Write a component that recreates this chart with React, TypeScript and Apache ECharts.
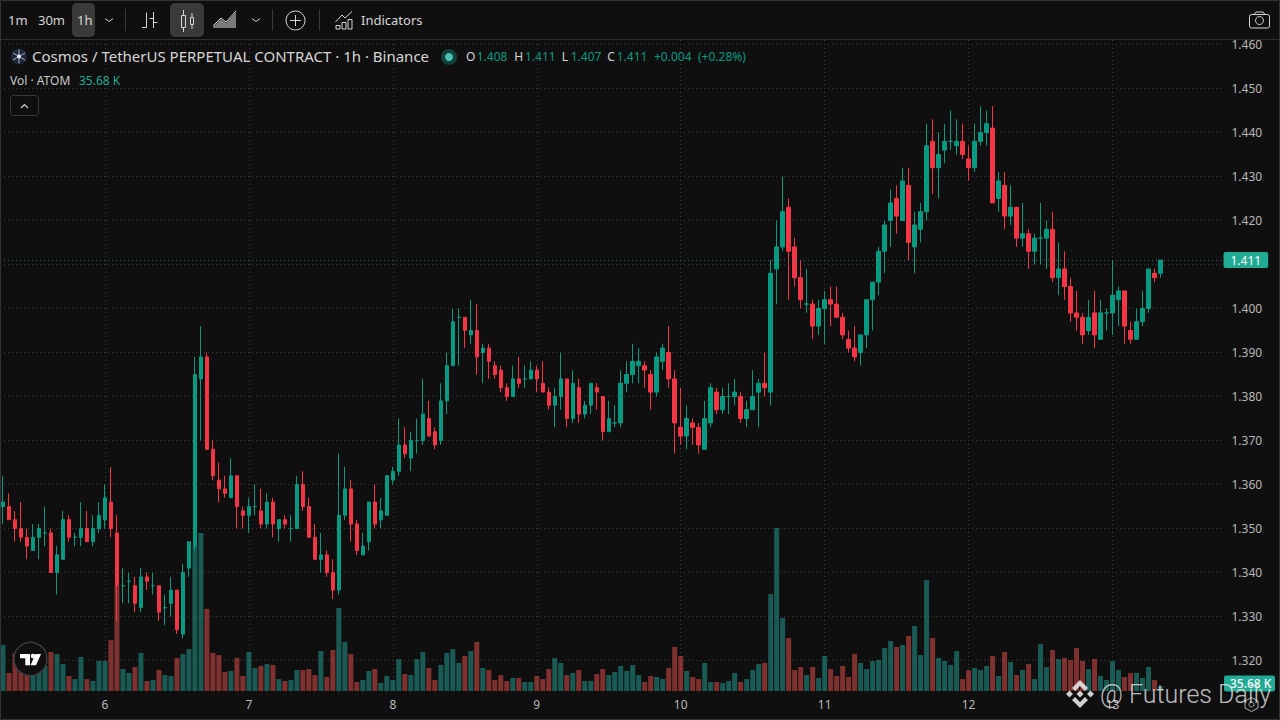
import React, { useEffect, useRef } from "react";
import * as echarts from "echarts";

// Prices in thousandths of a USDT, one entry per hourly candle
const opens = [
  1355,1355,1352,1350,1348,1345,1348,1349,1349,1340,
  1343,1352,1348,1348,1350,1347,1350,1352,1356,1349,
  1337,1338,1337,1332,1339,1337,1337,1332,1333,1336,
  1326,1341,1346,1384,1389,1368,1361,1359,1357,1362,
  1354,1353,1355,1354,1351,1356,1350,1352,1350,1350,
  1360,1355,1348,1343,1344,1340,1336,1353,1359,1351,
  1344,1347,1356,1352,1353,1361,1363,1369,1366,1370,
  1370,1375,1372,1370,1379,1387,1398,1398,1394,1395,
  1390,1391,1387,1386,1382,1380,1384,1384,1384,1386,
  1383,1381,1378,1380,1384,1375,1382,1376,1378,1382,
  1380,1372,1374,1374,1383,1385,1387,1387,1385,1381,
  1388,1390,1384,1373,1371,1374,1373,1368,1374,1381,
  1377,1380,1380,1380,1375,1377,1381,1383,1381,1409,
  1414,1423,1414,1407,1401,1401,1396,1400,1402,1401,
  1398,1393,1391,1390,1394,1402,1406,1413,1420,1425,
  1420,1428,1414,1418,1422,1438,1432,1436,1438,1437,
  1438,1434,1432,1438,1440,1441,1425,1428,1421,1423,
  1416,1417,1413,1416,1416,1418,1407,1409,1405,1399,
  1398,1395,1399,1393,1399,1399,1402,1404,1395,1393,
  1397,1400,1408,1408,
];
const closes = [
  1356,1352,1350,1348,1346,1348,1350,1349,1340,1344,
  1352,1348,1348,1350,1347,1350,1353,1357,1350,1337,
  1337,1338,1333,1339,1338,1337,1331,1332,1336,1327,
  1340,1347,1385,1389,1368,1362,1359,1358,1362,1355,
  1353,1355,1355,1351,1356,1351,1352,1351,1350,1360,
  1355,1348,1343,1344,1340,1336,1353,1359,1351,1345,
  1346,1356,1351,1354,1362,1363,1369,1367,1370,1370,
  1376,1371,1369,1379,1387,1397,1398,1395,1395,1389,
  1391,1388,1385,1382,1380,1384,1383,1384,1386,1384,
  1381,1378,1380,1384,1375,1383,1376,1378,1383,1381,
  1372,1375,1374,1383,1385,1388,1388,1386,1381,1389,
  1391,1384,1374,1371,1375,1373,1369,1375,1382,1377,
  1380,1380,1381,1375,1377,1380,1383,1382,1408,1414,
  1422,1413,1407,1402,1401,1396,1400,1402,1401,1398,
  1394,1391,1389,1394,1402,1406,1413,1419,1424,1421,
  1429,1415,1419,1422,1437,1432,1435,1438,1438,1438,
  1435,1432,1438,1440,1442,1424,1429,1421,1423,1416,
  1417,1413,1416,1416,1418,1407,1409,1405,1399,1398,
  1394,1398,1394,1399,1399,1403,1404,1396,1393,1397,
  1400,1409,1407,1411,
];
const highs = [
  1362,1358,1354,1356,1350,1351,1351,1355,1350,1346,
  1354,1353,1349,1356,1354,1353,1356,1360,1364,1353,
  1341,1340,1339,1341,1340,1340,1337,1335,1339,1336,
  1342,1347,1389,1396,1390,1370,1365,1362,1366,1362,
  1355,1357,1360,1359,1358,1357,1352,1353,1353,1362,
  1363,1357,1351,1349,1345,1343,1367,1364,1361,1352,
  1349,1356,1360,1357,1362,1364,1375,1373,1372,1375,
  1384,1379,1373,1383,1390,1400,1400,1398,1402,1401,
  1392,1392,1388,1387,1383,1387,1389,1387,1388,1387,
  1388,1382,1382,1390,1384,1386,1384,1379,1383,1383,
  1380,1379,1378,1386,1388,1392,1391,1388,1386,1390,
  1392,1396,1386,1382,1378,1375,1374,1379,1383,1382,
  1382,1383,1384,1381,1379,1386,1384,1390,1411,1420,
  1430,1425,1416,1411,1409,1402,1402,1404,1405,1405,
  1399,1395,1396,1394,1402,1406,1414,1420,1427,1428,
  1432,1432,1422,1424,1442,1443,1440,1442,1445,1443,
  1442,1437,1442,1446,1445,1446,1431,1431,1428,1423,
  1424,1418,1417,1424,1420,1422,1415,1413,1407,1404,
  1399,1402,1404,1402,1400,1411,1405,1404,1397,1400,
  1404,1409,1409,1411,
];
const lows = [
  1351,1352,1347,1347,1343,1345,1343,1346,1340,1335,
  1343,1347,1346,1346,1347,1346,1349,1350,1348,1329,
  1333,1333,1331,1331,1336,1335,1329,1328,1330,1326,
  1325,1339,1345,1370,1368,1361,1356,1357,1357,1350,
  1350,1349,1353,1350,1350,1348,1347,1350,1347,1350,
  1354,1348,1343,1340,1339,1334,1335,1352,1347,1344,
  1344,1345,1350,1350,1353,1360,1362,1366,1363,1367,
  1369,1371,1368,1369,1376,1387,1387,1391,1392,1385,
  1383,1384,1384,1381,1379,1380,1382,1382,1384,1381,
  1381,1377,1373,1377,1373,1374,1374,1375,1376,1377,
  1370,1372,1373,1373,1381,1383,1383,1382,1377,1380,
  1386,1382,1367,1369,1368,1369,1367,1368,1373,1376,
  1376,1376,1378,1374,1373,1377,1373,1380,1378,1401,
  1413,1402,1405,1400,1399,1393,1394,1392,1396,1398,
  1393,1390,1388,1387,1391,1395,1403,1408,1414,1417,
  1420,1411,1408,1415,1420,1426,1425,1433,1436,1435,
  1434,1429,1431,1437,1437,1424,1422,1418,1419,1414,
  1414,1409,1410,1410,1409,1406,1403,1402,1397,1395,
  1392,1394,1391,1393,1395,1394,1396,1392,1392,1393,
  1396,1399,1406,1407,
];
// Volume in thousands of ATOM
const volumes = [
  331,130,271,175,120,151,331,180,281,266,
  194,108,86,245,86,72,216,216,367,756,
  158,130,173,274,72,79,151,115,108,238,
  266,302,1044,1138,590,274,259,137,144,238,
  108,281,166,180,194,187,86,72,79,151,
  151,158,115,288,101,295,598,353,266,65,
  79,144,158,58,108,79,230,122,115,230,
  281,166,79,187,274,302,202,252,288,353,
  166,151,79,115,72,94,94,65,65,108,
  86,158,238,202,115,130,151,72,72,122,
  158,115,137,180,144,187,115,65,108,101,
  86,166,317,252,144,101,86,202,65,65,
  58,72,130,65,86,151,194,202,698,1174,
  526,382,151,173,115,173,94,252,158,108,
  180,101,266,202,158,216,223,310,360,317,
  331,396,468,259,799,382,238,216,187,288,
  86,151,166,151,180,252,108,281,209,115,
  151,194,86,338,173,295,230,238,223,310,
  216,158,230,108,79,216,151,101,130,130,
  94,173,79,35.68,
];
const dayTickIndex = [17, 41, 65, 89, 113, 137, 161, 185];
const dayLabels = ["6", "7", "8", "9", "10", "11", "12", "13"];
const priceTicks = { min: 1.31, max: 1.46, step: 0.01 };
const lastClose = 1.411;
const toolbarIntervals = ["1m", "30m", "1h"];
const titleText = "Cosmos / TetherUS PERPETUAL CONTRACT · 1h · Binance";
const ohlcLegend = [
  ["O", "1.408"],
  ["H", "1.411"],
  ["L", "1.407"],
  ["C", "1.411"],
];

const FONT = '"Noto Sans", Roboto, sans-serif';
const UP = "#089981";
const DOWN = "#f23645";
const BG = "#0f0f0f";
const GRID = "#3a3a3a";
const TEAL = "#22ab94";
const LABEL = "#b8b8b8";
const ICON = "#d6d6d6";

const T = (x: number, y: number, text: string, fill: string, size: number, extra: any = {}) => ({
  type: "text",
  x,
  y,
  z: 20,
  style: { text, fill, fontSize: size, fontFamily: FONT, verticalAlign: "middle", align: "left", ...extra },
});
const L = (pts: number[][], stroke = ICON, lw = 1, z = 20) => ({
  type: "polyline",
  z,
  shape: { points: pts },
  style: { stroke, lineWidth: lw, fill: "none" },
});
const P = (pts: number[][], fill: string, z = 20) => ({ type: "polygon", z, shape: { points: pts }, style: { fill } });
const R = (x: number, y: number, w: number, h: number, style: any, r = 0, z = 15) => ({
  type: "rect",
  z,
  shape: { x, y, width: w, height: h, r },
  style,
});
const C = (cx: number, cy: number, r: number, style: any, z = 20) => ({ type: "circle", z, shape: { cx, cy, r }, style });

function buildGraphics() {
  const out: any[] = [
    R(0, 0, 1280, 39, { fill: BG }, 0, 10),
    L([[0, 39.5], [1280, 39.5]], "#2e2e2e", 1, 11),
    R(0.5, 0.5, 1279, 719, { fill: "none", stroke: "#343434", lineWidth: 1 }, 0, 12),
    R(72, 3, 23, 34, { fill: "#3a3a3a" }, 5),
    R(170, 3, 34, 34, { fill: "#3a3a3a" }, 5),
    T(8, 20, toolbarIntervals[0], ICON, 13),
    T(38, 20, toolbarIntervals[1], ICON, 13),
    T(77, 20, toolbarIntervals[2], ICON, 13),
    L([[105, 18.5], [109, 21.5], [113, 18.5]]),
    L([[125.5, 9], [125.5, 31]], "#3a3a3a"),
    // bar-chart icon
    L([[142, 27.5], [146.5, 27.5], [146.5, 12.5]]),
    L([[153.5, 12], [153.5, 28]]),
    L([[153.5, 22.5], [157.5, 22.5]]),
    L([[149.5, 18.5], [153.5, 18.5]]),
    // candle icon
    R(181.5, 15.5, 4, 12, { fill: "none", stroke: ICON }, 0, 20),
    L([[183.5, 10], [183.5, 15]]),
    L([[183.5, 28], [183.5, 32]]),
    R(190.5, 17.5, 3, 7, { fill: "none", stroke: ICON }, 0, 20),
    L([[192, 13], [192, 17]]),
    L([[192, 25], [192, 29]]),
    // area icon
    P([[213, 27], [221, 19], [226, 23], [236, 12], [236, 28], [213, 28]], "rgba(214,214,214,0.55)"),
    L([[213, 26], [221, 18], [226, 22], [236, 11]]),
    L([[252, 18.5], [256, 21.5], [260, 18.5]]),
    L([[272.5, 9], [272.5, 31]], "#3a3a3a"),
    C(295.5, 20.5, 9.5, { fill: "none", stroke: ICON, lineWidth: 1 }),
    L([[295.5, 15], [295.5, 26]]),
    L([[290, 20.5], [301, 20.5]]),
    L([[319.5, 9], [319.5, 31]], "#3a3a3a"),
    // indicators icon
    L([[335.5, 22], [342, 15], [345, 18], [352, 11.5]]),
    R(336, 25.5, 4, 3.5, { fill: "none", stroke: ICON }, 0, 20),
    R(342, 22.5, 4, 6.5, { fill: "none", stroke: ICON }, 0, 20),
    R(348, 19.5, 4, 9.5, { fill: "none", stroke: ICON }, 0, 20),
    T(361, 20, "Indicators", ICON, 13),
    // camera icon
    R(1249.5, 14.5, 20, 13.5, { fill: "none", stroke: ICON }, 2, 20),
    L([[1254, 14.5], [1256, 12], [1263, 12], [1265, 14.5]]),
    C(1259.5, 20.5, 4, { fill: "none", stroke: ICON, lineWidth: 1 }),
    // legend
    C(19, 56.5, 8, { fill: "#20263a" }),
    L([[13, 53], [25, 60]], "#a9b4cc"),
    L([[13, 60], [25, 53]], "#a9b4cc"),
    L([[19, 49.5], [19, 63.5]], "#a9b4cc"),
    C(19, 56.5, 2, { fill: "#dfe4f0" }),
    T(32, 56, titleText, "#d6d6d6", 15),
    C(449, 57, 8, { fill: "#12403b" }),
    C(449, 57, 4, { fill: "#4cc0b0" }),
    T(10, 80.5, "Vol · ATOM", "#c8c8c8", 12),
    T(79, 80.5, "35.68 K", TEAL, 12),
    R(10.5, 95.5, 28, 20, { fill: BG, stroke: "#3a3a3a", lineWidth: 1 }, 3, 20),
    L([[21, 108], [24.5, 104.5], [28, 108]], ICON, 1.2, 21),
    T(654, 56.5, "+0.004", "#089981", 12),
    T(698, 56.5, "(+0.28%)", "#089981", 12),
    // volume tag
    R(1224, 675.5, 51, 16, { fill: TEAL }, 2, 15),
    T(1230, 683.5, "35.68 K", "#ffffff", 12, { fontWeight: 500 }),
    // TradingView badge
    C(30.5, 659, 16.5, { fill: BG, stroke: "#3c3c3c", lineWidth: 1.5 }),
    P([[20, 654], [30, 654], [30, 665.3], [25.3, 665.3], [25.3, 658.3], [20, 658.3]], "#ffffff"),
    C(33, 656, 2.3, { fill: "#ffffff" }),
    P([[41, 654], [35.5, 654], [30.5, 665.3], [36, 665.3]], "#ffffff"),
    // settings icon
    L([[1251.5, 697.5], [1258, 701], [1258, 708], [1251.5, 711.5], [1245, 708], [1245, 701], [1251.5, 697.5]], "#b0b0b0", 1, 21),
    C(1251.5, 704.5, 2.5, { fill: "none", stroke: "#b0b0b0", lineWidth: 1 }, 21),
    // watermark
    ...[
      [[0, -14], [8, -6], [5, -3], [0, -8], [-5, -3], [-8, -6]],
      [[0, 14], [8, 6], [5, 3], [0, 8], [-5, 3], [-8, 6]],
      [[-14, 0], [-10.5, -3.5], [-7, 0], [-10.5, 3.5]],
      [[14, 0], [10.5, -3.5], [7, 0], [10.5, 3.5]],
      [[0, -3.5], [3.5, 0], [0, 3.5], [-3.5, 0]],
    ].map((shape) => P(shape.map(([a, b]) => [1080 + a, 694 + b]), "rgba(235,235,235,0.88)", 30)),
    { ...T(1100, 694, "@ Futures Daily", "rgba(235,235,235,0.8)", 25, { fontFamily: "Roboto, sans-serif", fontWeight: 300 }), z: 30 },
  ];
  const xs = [466, 514.3, 561.7, 607.3];
  const vs = [476.7, 525, 570.7, 616.7];
  ohlcLegend.forEach(([k, v], i) => {
    out.push(T(xs[i], 56.5, k, "#d6d6d6", 12));
    out.push(T(vs[i], 56.5, v, "#089981", 12));
  });
  return out;
}

export default function App() {
  const ref = useRef<HTMLDivElement>(null);
  useEffect(() => {
    document.body.style.margin = "0";
    document.body.style.background = BG;
    const chart = echarts.init(ref.current!, undefined, { renderer: "svg", width: 1280, height: 720 });
    const slots = 204;
    const categories = Array.from({ length: slots }, (_, i) => {
      const at = dayTickIndex.indexOf(i);
      return at >= 0 ? dayLabels[at] : `h${i}`;
    });
    const isDay = (i: number) => dayTickIndex.includes(i);
    const candles = opens.map((o, i) => {
      const value = [o / 1000, closes[i] / 1000, lows[i] / 1000, highs[i] / 1000];
      return o === closes[i]
        ? { value, itemStyle: { color: UP, color0: UP, borderColor: UP, borderColor0: UP } }
        : { value };
    });
    const bars = volumes.map((v, i) => ({
      value: v,
      itemStyle: { color: closes[i] >= opens[i] ? "rgba(38,166,154,0.5)" : "rgba(239,83,80,0.5)" },
    }));
    chart.setOption({
      animation: false,
      backgroundColor: BG,
      textStyle: { fontFamily: FONT },
      tooltip: { show: false },
      grid: [
        { left: -0.5, width: 1224, top: 44.5, height: 660 },
        { left: -0.5, width: 1224, top: 40, height: 651 },
      ],
      xAxis: [
        {
          type: "category",
          gridIndex: 0,
          data: categories,
          axisLine: { show: false },
          axisTick: { show: false },
          axisLabel: { show: false },
          splitLine: { show: false },
        },
        {
          type: "category",
          gridIndex: 1,
          data: categories,
          axisLine: { show: false },
          axisTick: { show: false },
          axisLabel: {
            show: true,
            interval: (i: number) => isDay(i),
            color: LABEL,
            fontSize: 12,
            fontFamily: FONT,
            margin: 7,
          },
          splitLine: {
            show: true,
            interval: (i: number) => isDay(i),
            alignWithLabel: true,
            lineStyle: { color: GRID, type: [1, 3], width: 1 },
          },
        },
      ],
      yAxis: [
        {
          type: "value",
          gridIndex: 0,
          position: "right",
          min: priceTicks.min,
          max: priceTicks.max,
          interval: priceTicks.step,
          axisLine: { show: false },
          axisTick: { show: false },
          axisLabel: {
            color: LABEL,
            fontSize: 12,
            fontFamily: FONT,
            margin: 8,
            showMinLabel: false,
            padding: [0, 0, 1, 0],
            // the 1.410 label sits under the last-price tag, so it is not drawn
            formatter: (v: number) => (v.toFixed(3) === "1.410" ? "" : v.toFixed(3)),
          },
          splitLine: { show: true, showMinLine: false, lineStyle: { color: GRID, type: [1, 3], width: 1 } },
        },
        {
          type: "value",
          gridIndex: 1,
          min: 0,
          max: 4687.2,
          show: false,
          splitLine: { show: false },
        },
      ],
      series: [
        {
          type: "bar",
          xAxisIndex: 1,
          yAxisIndex: 1,
          data: bars,
          barWidth: 5,
          z: 1,
          silent: true,
        },
        {
          type: "candlestick",
          xAxisIndex: 0,
          yAxisIndex: 0,
          data: candles,
          barWidth: 4,
          z: 3,
          silent: true,
          itemStyle: { color: UP, color0: DOWN, borderColor: UP, borderColor0: DOWN, borderWidth: 1 },
          markLine: {
            silent: true,
            precision: 3,
            symbol: ["none", "none"],
            lineStyle: { color: "rgba(34,171,148,0.65)", type: [1, 3], width: 1 },
            label: {
              show: true,
              position: "end",
              distance: 0,
              formatter: lastClose.toFixed(3),
              color: "#ffffff",
              fontSize: 12,
              fontFamily: FONT,
              backgroundColor: TEAL,
              padding: [2, 7, 2, 7],
              borderRadius: 2,
            },
            data: [{ yAxis: lastClose }],
          },
        },
      ],
      graphic: { elements: buildGraphics() },
    });
    return () => chart.dispose();
  }, []);
  return <div ref={ref} style={{ width: 1280, height: 720, overflow: "hidden" }} />;
}
